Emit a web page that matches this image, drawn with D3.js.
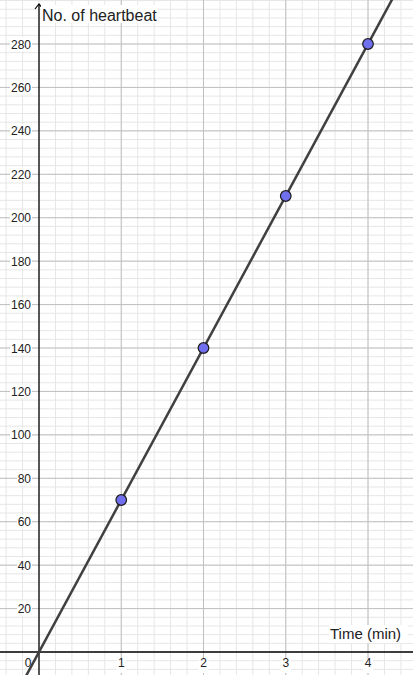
<!DOCTYPE html>
<html>
<head>
<meta charset="utf-8">
<script src="https://cdn.jsdelivr.net/npm/d3@7"></script>
<style>
  body { margin: 0; background: #fff; }
  svg { display: block; font-family: Arial, "Liberation Sans", sans-serif; }
</style>
</head>
<body>
<script>
// data
var times = [1, 2, 3, 4];
var beats = [70, 140, 210, 280];
var xTicks = [1, 2, 3, 4];
var yTicks = [20, 40, 60, 80, 100, 120, 140, 160, 180, 200, 220, 240, 260, 280];

var W = 413, H = 675;

var svg = d3.select("body").append("svg")
	.attr("width", W)
	.attr("height", H);

var x = d3.scaleLinear().domain([0, 4]).range([39, 368]);
var y = d3.scaleLinear().domain([0, 280]).range([652, 44]);

var xMin = x.invert(0), xMax = x.invert(W);
var yMin = y.invert(H), yMax = y.invert(0);

// minor grid: 5 per major
var minorX = d3.range(Math.ceil(xMin * 5), Math.floor(xMax * 5) + 1).map(function(k) { return k / 5; });
var minorY = d3.range(Math.ceil(yMin / 4), Math.floor(yMax / 4) + 1).map(function(k) { return k * 4; });

svg.selectAll(".minx").data(minorX).enter().append("line")
	.attr("x1", function(d) { return x(d); }).attr("x2", function(d) { return x(d); })
	.attr("y1", 0).attr("y2", H)
	.style("stroke", "#e6e6e6").style("stroke-width", 1);

svg.selectAll(".miny").data(minorY).enter().append("line")
	.attr("y1", function(d) { return y(d); }).attr("y2", function(d) { return y(d); })
	.attr("x1", 0).attr("x2", W)
	.style("stroke", "#e6e6e6").style("stroke-width", 1);

svg.selectAll(".majx").data(xTicks).enter().append("line")
	.attr("x1", function(d) { return x(d); }).attr("x2", function(d) { return x(d); })
	.attr("y1", 0).attr("y2", H)
	.style("stroke", "#c0c0c0").style("stroke-width", 1);

svg.selectAll(".majy").data(yTicks).enter().append("line")
	.attr("y1", function(d) { return y(d); }).attr("y2", function(d) { return y(d); })
	.attr("x1", 0).attr("x2", W)
	.style("stroke", "#c0c0c0").style("stroke-width", 1);

// axes
svg.append("line")
	.attr("x1", 0).attr("x2", W)
	.attr("y1", y(0)).attr("y2", y(0))
	.style("stroke", "#000").style("stroke-width", 1.3);

svg.append("line")
	.attr("x1", x(0)).attr("x2", x(0))
	.attr("y1", 4).attr("y2", H)
	.style("stroke", "#000").style("stroke-width", 1.3);

svg.append("path")
	.attr("d", "M" + (x(0) - 4) + ",9 L" + x(0) + ",4 L" + (x(0) + 4) + ",9")
	.style("fill", "none").style("stroke", "#000").style("stroke-width", 1.2);

// tick labels with white boxes
var yLab = svg.selectAll(".ylab").data(yTicks).enter().append("g");
yLab.append("rect")
	.attr("x", function(d) { return d >= 100 ? 10 : 17; })
	.attr("y", function(d) { return y(d) - 7; })
	.attr("width", function(d) { return d >= 100 ? 22 : 15; })
	.attr("height", 14)
	.style("fill", "#fff");
yLab.append("text")
	.attr("x", 31)
	.attr("y", function(d) { return y(d) + 4.5; })
	.attr("text-anchor", "end")
	.style("font-size", "12px")
	.style("fill", "#222")
	.text(function(d) { return d; });

var xLab = svg.selectAll(".xlab").data(xTicks).enter().append("g");
xLab.append("rect")
	.attr("x", function(d) { return x(d) - 5; })
	.attr("y", 659)
	.attr("width", 10).attr("height", 14)
	.style("fill", "#fff");
xLab.append("text")
	.attr("x", function(d) { return x(d); })
	.attr("y", 667)
	.attr("text-anchor", "middle")
	.style("font-size", "12px")
	.style("fill", "#222")
	.text(function(d) { return d; });

svg.append("text")
	.attr("x", 28).attr("y", 667)
	.attr("text-anchor", "middle")
	.style("font-size", "12px")
	.style("fill", "#222")
	.text("0");

// axis titles
svg.append("rect").attr("x", 41).attr("y", 5).attr("width", 117).attr("height", 18).style("fill", "#fff");
svg.append("text")
	.attr("x", 42).attr("y", 21)
	.style("font-size", "16px")
	.style("fill", "#222")
	.text("No. of heartbeat");

svg.append("rect").attr("x", 329).attr("y", 625).attr("width", 79).attr("height", 18).style("fill", "#fff");
svg.append("text")
	.attr("x", 330).attr("y", 639)
	.style("font-size", "15px")
	.style("fill", "#222")
	.text("Time (min)");

// line through the points, extended across the view
var slope = beats[beats.length - 1] / times[times.length - 1];
var ends = [xMin, xMax];
svg.append("line")
	.attr("x1", x(ends[0])).attr("y1", y(slope * ends[0]))
	.attr("x2", x(ends[1])).attr("y2", y(slope * ends[1]))
	.style("stroke", "#404040").style("stroke-width", 2.5);

// points
svg.selectAll(".pt").data(times).enter().append("circle")
	.attr("cx", function(d) { return x(d); })
	.attr("cy", function(d, i) { return y(beats[i]); })
	.attr("r", 5.3)
	.style("fill", "#7070ee")
	.style("stroke", "#1a1a1a")
	.style("stroke-width", 1.2);
</script>
</body>
</html>
